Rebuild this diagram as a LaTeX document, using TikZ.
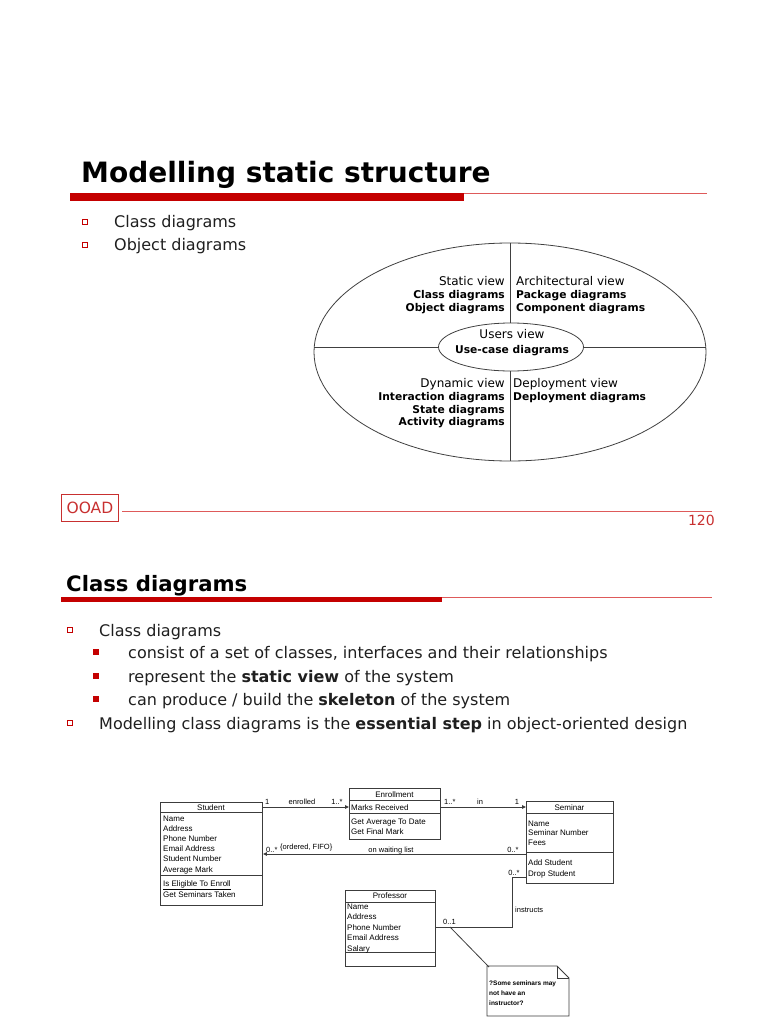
\documentclass[tikz,border=0pt]{standalone}
\usepackage{fontspec}
\setmainfont{DejaVu Sans}
\newfontfamily\umlfont{Liberation Sans}
\usetikzlibrary{arrows.meta,calc,shapes.geometric}
\definecolor{slidered}{RGB}{196,0,0}
\definecolor{thinred}{RGB}{222,90,90}
\definecolor{labred}{RGB}{200,48,48}
\definecolor{umlgray}{RGB}{60,60,60}
\newcommand{\fsz}[1]{\fontsize{#1}{#1}\selectfont}
\begin{document}
\begin{tikzpicture}[x=1pt,y=-1pt,
  txt/.style={inner sep=0pt, anchor=base west},
  txtr/.style={inner sep=0pt, anchor=base east},
  txtc/.style={inner sep=0pt, anchor=base},
  body/.style={txt, font=\fsz{16}, text=black!88},
  hbul/.style={draw=slidered, line width=1pt, minimum size=5.5pt, inner sep=0pt},
  fbul/.style={fill=slidered, minimum size=6pt, inner sep=0pt},
  reg/.style={font=\fsz{12}},
  bld/.style={font=\bfseries\fsz{10.7}},
  cls/.style={draw=umlgray, line width=0.9pt, anchor=north west, inner sep=0pt},
  um/.style={txt, font=\umlfont\fsz{8}},
  umc/.style={txtc, font=\umlfont\fsz{8}},
  lab/.style={txt, font=\umlfont\fsz{7.5}},
  labc/.style={txtc, font=\umlfont\fsz{7.5}},
  assoc/.style={draw=umlgray, line width=1pt},
  tip/.style={-{Triangle[length=4pt,width=3.5pt]}},
  sep/.style={draw=umlgray, line width=0.9pt},
  thin/.style={draw=thinred, line width=0.9pt}
]
\useasboundingbox (0,0) rectangle (768,1024);

% ---------------- slide 1 ----------------
\node[txt, font=\bfseries\fsz{28}] (title1) at (81,183) {Modelling static structure};
\draw[thin] (70,193.5) -- (707,193.5);
\fill[slidered] (70,193) rectangle (464,201);
\node[hbul] (sb1) at (85,222) {};
\node[body] (st1) at (114,228) {Class diagrams};
\node[hbul] (sb2) at (85,245) {};
\node[body] (st2) at (114,251) {Object diagrams};

% the views ellipse
\node[draw=black!75, line width=0.8pt, ellipse, minimum width=392pt, minimum height=218pt, inner sep=0pt] (outer) at (510,352) {};
\node[draw=black!75, line width=0.8pt, ellipse, minimum width=145pt, minimum height=48pt, inner sep=0pt] (inner) at (511,347) {};
\draw[black!75, line width=0.8pt] (outer.north) -- (outer.north |- inner.north);
\draw[black!75, line width=0.8pt] (outer.south |- inner.south) -- (outer.south);
\draw[black!75, line width=0.8pt] (inner.west) -- (inner.west -| outer.west);
\draw[black!75, line width=0.8pt] (inner.east) -- (inner.east -| outer.east);

\node[txtr, reg] (sv) at (505,285.5) {Static view};
\node[txtr, bld] (sv1) at (505,298) {Class diagrams};
\node[txtr, bld] (sv2) at (505,311) {Object diagrams};
\node[txt, reg] (av) at (516,285.5) {Architectural view};
\node[txt, bld] (av1) at (516,298) {Package diagrams};
\node[txt, bld] (av2) at (516,311) {Component diagrams};
\node[txtc, reg] (uv) at (512,338.5) {Users view};
\node[txtc, bld] (uv1) at (512,353) {Use-case diagrams};
\node[txtr, reg] (dv) at (505,387.5) {Dynamic view};
\node[txtr, bld] (dv1) at (505,400) {Interaction diagrams};
\node[txtr, bld] (dv2) at (505,413) {State diagrams};
\node[txtr, bld] (dv3) at (505,425) {Activity diagrams};
\node[txt, reg] (pv) at (513,387.5) {Deployment view};
\node[txt, bld] (pv1) at (513,400) {Deployment diagrams};

% footer
\node[draw=labred, line width=0.8pt, text=labred, font=\fsz{15.5}, minimum width=57pt, minimum height=27pt, inner sep=0pt, anchor=north west] (ooad) at (61,494) {OOAD};
\draw[thin] (122,511) -- (712,511);
\node[txtr, text=labred, font=\fsz{14}] (pg) at (715,525) {120};

% ---------------- slide 2 ----------------
\node[txt, font=\bfseries\fsz{21.2}] (title2) at (66,591) {Class diagrams};
\draw[thin] (61,597.5) -- (712,597.5);
\fill[slidered] (61,597) rectangle (442,602);

\node[hbul] (b1) at (70,630) {};
\node[body] (t1) at (99,636) {Class diagrams};
\node[fbul] (b2) at (96,652) {};
\node[body] (t2) at (128,658) {consist of a set of classes, interfaces and their relationships};
\node[fbul] (b3) at (96,676) {};
\node[body] (t3) at (128,682) {represent the \textbf{static view} of the system};
\node[fbul] (b4) at (96,699) {};
\node[body] (t4) at (128,705) {can produce / build the \textbf{skeleton} of the system};
\node[hbul] (b5) at (70,723) {};
\node[body] (t5) at (99,729) {Modelling class diagrams is the \textbf{essential step} in object-oriented design};

% ---------------- UML class diagram ----------------
% Student
\node[cls, minimum width=102pt, minimum height=103pt] (student) at (160,802) {};
\draw[sep] (160,812) -- (262,812);
\draw[sep] (160,875) -- (262,875);
\node[umc] at (211,810) {Student};
\node[um] at (163,821) {Name};
\node[um] at (163,831.2) {Address};
\node[um] at (163,841.4) {Phone Number};
\node[um] at (163,851.6) {Email Address};
\node[um] at (163,861.8) {Student Number};
\node[um] at (163,872) {Average Mark};
\node[um] at (163,886) {\underline{Is Eligible To Enroll}};
\node[um] at (163,897) {Get Seminars Taken};

% Enrollment
\node[cls, minimum width=91pt, minimum height=51pt] (enroll) at (349,788) {};
\draw[sep] (349,800) -- (440,800);
\draw[sep] (349,813) -- (440,813);
\node[umc] at (394.5,797) {Enrollment};
\node[um] at (351,810) {Marks Received};
\node[um] at (351,824) {Get Average To Date};
\node[um] at (351,834) {Get Final Mark};

% Seminar
\node[cls, minimum width=87pt, minimum height=82pt] (seminar) at (526,801) {};
\draw[sep] (526,813) -- (613,813);
\draw[sep] (526,852) -- (613,852);
\node[umc] at (569.5,810) {Seminar};
\node[um] at (528,826) {Name};
\node[um] at (528,835.5) {Seminar Number};
\node[um] at (528,845) {Fees};
\node[um] at (528,865) {Add Student};
\node[um] at (528,876) {Drop Student};

% Professor
\node[cls, minimum width=90pt, minimum height=76pt] (prof) at (345,890) {};
\draw[sep] (345,902) -- (435,902);
\draw[draw=umlgray, line width=1.6pt] (345,952.5) -- (435,952.5);
\node[umc] at (390,898) {Professor};
\node[um] at (347,909) {Name};
\node[um] at (347,919.5) {Address};
\node[um] at (347,930) {Phone Number};
\node[um] at (347,940.5) {Email Address};
\node[um] at (347,951) {Salary};

% Note
\draw[umlgray, line width=0.8pt, fill=white] (487,966) -- (557,966) -- (569,978) -- (569,1016) -- (487,1016) -- cycle;
\draw[umlgray, line width=0.8pt] (557,966) -- (557,978) -- (569,978);
\node[txt, font=\umlfont\bfseries\fsz{6.5}] (n1) at (489,985.5) {?Some seminars may};
\node[txt, font=\umlfont\bfseries\fsz{6.5}] (n2) at (489,995.5) {not have an};
\node[txt, font=\umlfont\bfseries\fsz{6.5}] (n3) at (489,1005.5) {instructor?};

% associations
\coordinate (yE) at (0,807);
\coordinate (yW) at (0,854);
\coordinate (yI) at (0,927);
\coordinate (yS) at (0,877);
\coordinate (bend) at (512,0);
\draw[assoc, tip] (student.east |- yE) -- (enroll.west |- yE);
\draw[assoc, tip] (enroll.east |- yE) -- (seminar.west |- yE);
\draw[assoc, tip] (seminar.west |- yW) -- (student.east |- yW);
\draw[assoc] (prof.east |- yI) -- (bend |- yI) -- (bend |- yS) -- (seminar.west |- yS);
\coordinate (nstart) at (450,927);
\coordinate (nend) at (489,967);
\draw[umlgray, line width=0.8pt] (nstart) -- (nend);

\node[lab] at (265,804) {1};
\node[labc] at (302,804) {enrolled};
\node[labc] at (337,804) {1..*};
\node[lab] at (444,804) {1..*};
\node[labc] at (480,804) {in};
\node[labc] at (517,804) {1};
\node[lab] at (266,852.5) {0..*};
\node[lab] at (280,849) {\{ordered, FIFO\}};
\node[labc] at (391,852) {on waiting list};
\node[labc] at (513,852) {0..*};
\node[labc] at (514,875) {0..*};
\node[lab] at (515,912) {instructs};
\node[lab] at (443,924) {0..1};
\end{tikzpicture}
\end{document}
